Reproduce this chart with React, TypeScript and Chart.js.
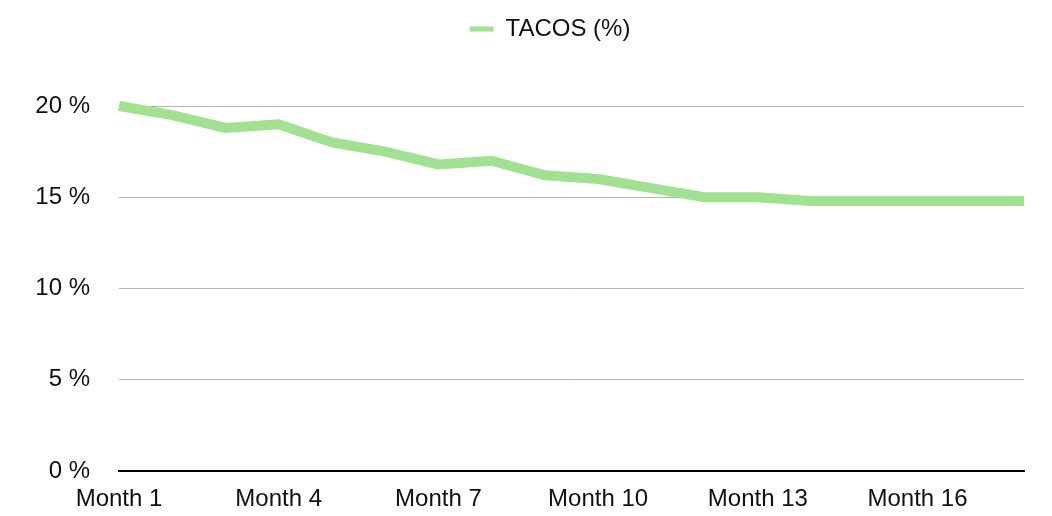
import React, { useEffect, useRef } from "react";
import { Chart, registerables } from "chart.js";

Chart.register(...registerables);

const categories: string[] = [
  "Month 1", "Month 2", "Month 3", "Month 4", "Month 5", "Month 6",
  "Month 7", "Month 8", "Month 9", "Month 10", "Month 11", "Month 12",
  "Month 13", "Month 14", "Month 15", "Month 16", "Month 17", "Month 18",
];
const tacosValues: number[] = [
  20, 19.5, 18.8, 19.0, 18.0, 17.5, 16.8, 17.0, 16.2,
  16.0, 15.5, 15.0, 15.0, 14.8, 14.8, 14.8, 14.8, 14.8,
];
const seriesLabel = "TACOS (%)";
const yTicks: number[] = [0, 5, 10, 15, 20];

const LINE_COLOR = "rgb(163,225,146)";
const FONT = "'Liberation Sans', Arial, Helvetica, sans-serif";

const legendTweak = {
  id: "legendTweak",
  beforeInit(chart: any) {
    const legend = chart.legend;
    if (!legend) return;
    const origFit = legend.fit.bind(legend);
    legend.fit = function () {
      origFit();
      this.height = 106;
    };
  },
  afterLayout(chart: any) {
    const l = chart.legend;
    if (!l) return;
    l.left += 38;
    l.right += 38;
  },
};

export default function App() {
  const ref = useRef<HTMLCanvasElement | null>(null);

  useEffect(() => {
    document.body.style.margin = "0";
    const canvas = ref.current;
    if (!canvas) return;
    const chart = new Chart(canvas, {
      type: "line",
      data: {
        labels: categories,
        datasets: [
          {
            label: seriesLabel,
            data: tacosValues,
            borderColor: LINE_COLOR,
            backgroundColor: LINE_COLOR,
            borderWidth: 10,
            pointRadius: 0,
            pointHoverRadius: 0,
            tension: 0,
            fill: false,
            clip: false as any,
            borderJoinStyle: "miter",
          },
        ],
      },
      options: {
        animation: false,
        responsive: true,
        maintainAspectRatio: false,
        layout: { padding: { left: 0, right: 28, top: 0, bottom: 0 } },
        plugins: {
          tooltip: { enabled: false },
          legend: {
            display: true,
            position: "top",
            labels: {
              boxWidth: 24,
              boxHeight: 5,
              padding: 17,
              color: "#111",
              font: { family: FONT, size: 24 },
              generateLabels: (c: any) =>
                Chart.defaults.plugins.legend.labels
                  .generateLabels(c)
                  .map((l: any) => ({ ...l, lineWidth: 0, fillStyle: LINE_COLOR, strokeStyle: LINE_COLOR })),
            },
          },
        },
        scales: {
          x: {
            grid: { display: false, drawTicks: false },
            border: { display: true, color: "#000", width: 2 },
            ticks: {
              autoSkip: false,
              maxRotation: 0,
              minRotation: 0,
              padding: 14,
              color: "#111",
              font: { family: FONT, size: 24 },
              callback: (_v: any, i: number) => (i % 3 === 0 ? categories[i] : ""),
            },
            afterFit: (s: any) => {
              s.height = 45;
            },
          },
          y: {
            min: yTicks[0],
            max: yTicks[yTicks.length - 1],
            afterBuildTicks: (s: any) => {
              s.ticks = yTicks.map((v) => ({ value: v }));
            },
            grid: { color: "#b5b5b5", lineWidth: 1, drawTicks: false },
            border: { display: false },
            ticks: {
              padding: 29,
              color: "#111",
              font: { family: FONT, size: 24 },
              callback: (v: any) => `${v} %`,
            },
            afterFit: (s: any) => {
              s.width = 119;
            },
          },
        },
      },
      plugins: [legendTweak],
    });
    return () => chart.destroy();
  }, []);

  return (
    <div style={{ width: 1052, height: 516, position: "relative" }}>
      <canvas ref={ref} />
    </div>
  );
}
